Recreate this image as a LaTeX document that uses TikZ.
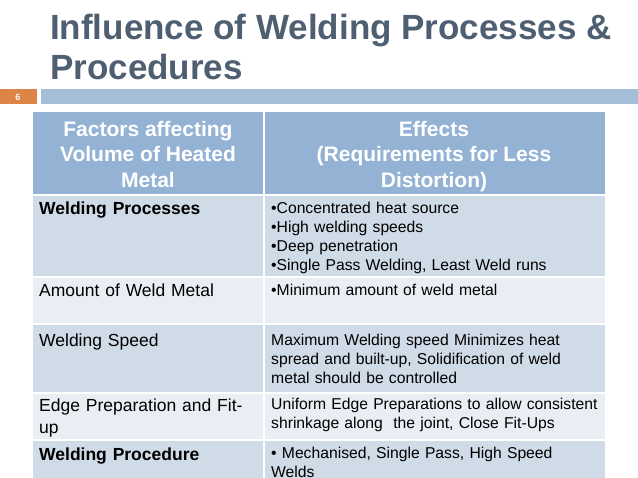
\documentclass[tikz,border=0pt]{standalone}
\usepackage{fontspec}
\setmainfont{Liberation Sans}
\begin{document}
\begin{tikzpicture}[x=1pt,y=-1pt,
 cell/.style={anchor=north west,inner sep=0pt,align=left},
 lab/.style={cell,font=\fontsize{17.5}{22}\selectfont,text width=225},
 eff/.style={cell,font=\fontsize{15.7}{19}\selectfont,text width=340},
 hd/.style={anchor=north,inner sep=0pt,align=center,text=white,font=\bfseries\fontsize{21}{25.5}\selectfont}]
\definecolor{ttl}{HTML}{4E5F71}
\definecolor{hdr}{HTML}{94B3D4}
\definecolor{rA}{HTML}{D0DBE8}
\definecolor{rB}{HTML}{E9EEF5}
\definecolor{bar}{HTML}{A5BED8}
\definecolor{org}{HTML}{DD8447}
\useasboundingbox (0,0) rectangle (638,478);
\fill[white] (0,0) rectangle (638,478);
\node[anchor=west,inner sep=0pt,text=ttl,font=\bfseries\fontsize{35}{40}\selectfont,align=left] (t1) at (50,31) {Influence of Welding Processes \&};
\node[anchor=west,inner sep=0pt,text=ttl,font=\bfseries\fontsize{35}{40}\selectfont] (t2) at (50,67) {Procedures};
\fill[org] (0,89) rectangle (37,104);
\node[text=white,font=\bfseries\fontsize{9}{10}\selectfont,inner sep=0pt] (n6) at (18,97) {6};
\fill[bar] (41,89) rectangle (638,104);
\fill[hdr] (33,112) rectangle (605,195);
\fill[rA] (33,195) rectangle (605,277);
\fill[rB] (33,277) rectangle (605,324);
\fill[rA] (33,324) rectangle (605,393);
\fill[rB] (33,393) rectangle (605,440);
\fill[rA] (33,440) rectangle (605,478);
\draw[white,line width=1.5] (264,112) -- (264,478);
\foreach \y in {195,277,324,393,440} \draw[white,line width=2] (33,\y) -- (605,\y);
\node[hd] (h1) at (148,121) {Factors affecting\\Volume of Heated\\Metal};
\node[hd] (h2) at (434,121) {Effects\\(Requirements for Less\\Distortion)};
\node[lab,font=\bfseries\fontsize{17.5}{22}\selectfont] (l1) at (39,202) {Welding Processes};
\node[lab] (l2) at (39,284) {Amount of Weld Metal};
\node[lab] (l3) at (39,334) {Welding Speed};
\node[lab] (l4) at (39,399) {Edge Preparation and Fit-\\up};
\node[lab,font=\bfseries\fontsize{17.5}{22}\selectfont] (l5) at (39,448) {Welding Procedure};
\node[eff] (e1) at (271,202) {•Concentrated heat source\\•High welding speeds\\•Deep penetration\\•Single Pass Welding, Least Weld runs};
\node[eff] (e2) at (271,284) {•Minimum amount of weld metal};
\node[eff] (e3) at (271,334) {Maximum Welding speed Minimizes heat\\spread and built-up, Solidification of weld\\metal should be controlled};
\node[eff] (e4) at (271,398) {Uniform Edge Preparations to allow consistent\\shrinkage along\ \ the joint, Close Fit-Ups};
\node[eff] (e5) at (271,447) {• Mechanised, Single Pass, High Speed\\Welds};
\end{tikzpicture}
\end{document}
